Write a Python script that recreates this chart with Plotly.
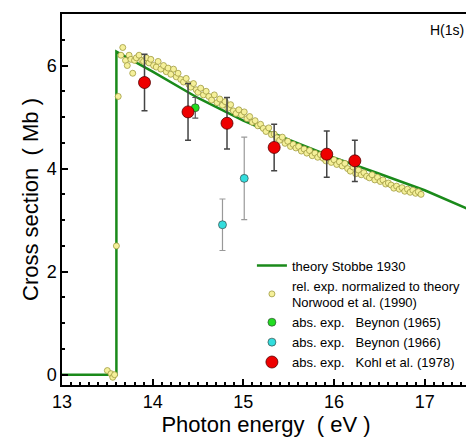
import plotly.graph_objects as go

th_x = [13.0, 13.6, 13.6, 14.0, 14.5, 15.0, 15.5, 16.0, 16.5, 17.0, 17.5]
th_y = [0.0, 0.0, 6.27, 5.88, 5.37, 4.93, 4.56, 4.21, 3.9, 3.58, 3.2]

rel_x = [13.5, 13.54, 13.56, 13.58, 13.6, 13.62, 13.65, 13.67, 13.7, 13.72, 13.74, 13.76, 13.78, 13.8,
         13.82, 13.85, 13.88, 13.9, 13.93, 13.96, 13.98, 14.01, 14.04, 14.06, 14.09, 14.12, 14.15,
         14.17, 14.2, 14.23, 14.26, 14.28, 14.31, 14.34, 14.37, 14.4, 14.42, 14.45, 14.48, 14.5,
         14.53, 14.56, 14.59, 14.62, 14.65, 14.68, 14.71, 14.74, 14.77, 14.8, 14.83, 14.86, 14.89,
         14.92, 14.95, 14.98, 15.01, 15.04, 15.07, 15.1, 15.13, 15.16, 15.19, 15.22, 15.25, 15.28,
         15.31, 15.34, 15.37, 15.4, 15.43, 15.46, 15.49, 15.52, 15.55, 15.58, 15.61, 15.64, 15.67,
         15.7, 15.73, 15.76, 15.79, 15.82, 15.85, 15.88, 15.91, 15.94, 15.97, 16.0, 16.03, 16.06,
         16.09, 16.12, 16.15, 16.18, 16.21, 16.24, 16.27, 16.3, 16.33, 16.36, 16.39, 16.42, 16.45,
         16.48, 16.51, 16.54, 16.57, 16.6, 16.63, 16.66, 16.69, 16.72, 16.75, 16.78, 16.81, 16.84,
         16.87, 16.9, 16.93, 16.96]
rel_y = [0.08, 0.02, -0.05, 0.0, 2.5, 5.4, 6.2, 6.35, 6.1, 6.0, 6.2, 6.12, 5.85, 6.1,
         6.15, 6.2, 6.1, 6.08, 6.15, 6.05, 6.12, 6.0, 5.97, 6.08, 5.93, 6.0, 5.88, 5.95, 5.83,
         5.93, 5.78, 5.85, 5.73, 5.68, 5.75, 5.63, 5.58, 5.65, 5.53, 5.48, 5.56, 5.43, 5.5, 5.4,
         5.33, 5.43, 5.28, 5.35, 5.23, 5.3, 5.17, 5.24, 5.12, 5.07, 5.14, 5.04, 5.1, 4.97, 5.01,
         4.9, 4.93, 4.83, 4.86, 4.78, 4.72, 4.79, 4.66, 4.67, 4.6, 4.55, 4.61, 4.49, 4.53, 4.43,
         4.47, 4.4, 4.43, 4.34, 4.38, 4.3, 4.35, 4.25, 4.3, 4.22, 4.27, 4.2, 4.15, 4.22, 4.12,
         4.17, 4.08, 4.13, 4.05, 4.1, 4.0, 3.95, 4.03, 3.9, 3.97, 3.88, 3.92, 3.85, 3.82, 3.88,
         3.78, 3.83, 3.75, 3.78, 3.7, 3.72, 3.68, 3.62, 3.66, 3.6, 3.63, 3.56, 3.6, 3.54, 3.58,
         3.52, 3.55, 3.5]

b65_x = [14.47]
b65_y = [5.18]
b65_e = [0.2]
b66_x = [14.77, 15.01]
b66_y = [2.91, 3.81]
b66_e = [0.5, 0.8]
kohl_x = [13.91, 14.39, 14.82, 15.34, 15.92, 16.23]
kohl_y = [5.67, 5.1, 4.88, 4.41, 4.28, 4.15]
kohl_e = [0.55, 0.55, 0.5, 0.45, 0.45, 0.4]

FONT = "Liberation Sans, Arial"
fig = go.Figure()
fig.add_trace(go.Scatter(x=th_x, y=th_y, mode="lines", line=dict(color="#1a8a1a", width=2.5),
                         name="theory Stobbe 1930"))
fig.add_trace(go.Scatter(x=rel_x, y=rel_y, mode="markers",
                         marker=dict(size=6, color="#f5f09a", line=dict(color="#a09a40", width=0.8)),
                         name="rel. exp. normalized to theory<br>Norwood et al. (1990)"))
fig.add_trace(go.Scatter(x=b65_x, y=b65_y, mode="markers",
                         error_y=dict(type="data", array=b65_e, color="#555", width=3, thickness=1.2),
                         marker=dict(size=8, color="#22dd22", line=dict(color="#333", width=0.6)),
                         name="abs. exp.   Beynon (1965)"))
fig.add_trace(go.Scatter(x=b66_x, y=b66_y, mode="markers",
                         error_y=dict(type="data", array=b66_e, color="#999", width=3, thickness=1.2),
                         marker=dict(size=8, color="#33dddd", line=dict(color="#333", width=0.6)),
                         name="abs. exp.   Beynon (1966)"))
fig.add_trace(go.Scatter(x=kohl_x, y=kohl_y, mode="markers",
                         error_y=dict(type="data", array=kohl_e, color="#444", width=3, thickness=1.5),
                         marker=dict(size=12, color="#ee0000", line=dict(color="#550000", width=0.8)),
                         name="abs. exp.   Kohl et al. (1978)"))

axis_common = dict(showline=True, linecolor="black", linewidth=1.5, mirror=True, ticks="inside",
                   ticklen=6, tickwidth=1.5, tickcolor="black", showgrid=False, zeroline=False,
                   tickfont=dict(family=FONT, size=18, color="black"))
fig.update_xaxes(range=[13, 17.5], dtick=1, title=dict(text="Photon energy  ( eV )", standoff=2,
                 font=dict(family=FONT, size=22, color="black")),
                 minor=dict(ticks="inside", dtick=0.1, ticklen=3, tickcolor="black"), **axis_common)
fig.update_yaxes(range=[-0.2, 7.0], dtick=2, title=dict(text="Cross section  ( Mb )", standoff=2,
                 font=dict(family=FONT, size=22, color="black")),
                 minor=dict(ticks="inside", dtick=0.5, ticklen=3, tickcolor="black"), **axis_common)
fig.add_annotation(x=0.99, y=0.985, xref="paper", yref="paper", text="H(1s)", showarrow=False,
                   xanchor="right", yanchor="top", font=dict(family=FONT, size=14, color="black"))
fig.update_layout(width=474, height=443, plot_bgcolor="white", paper_bgcolor="white",
                  margin=dict(l=54, r=12, t=4, b=66),
                  legend=dict(x=0.99, y=0.02, xanchor="right", yanchor="bottom", bgcolor="rgba(255,255,255,0)",
                              font=dict(family=FONT, size=13, color="black"),
                              tracegroupgap=0, itemwidth=30))
fig.write_html("out.html")
